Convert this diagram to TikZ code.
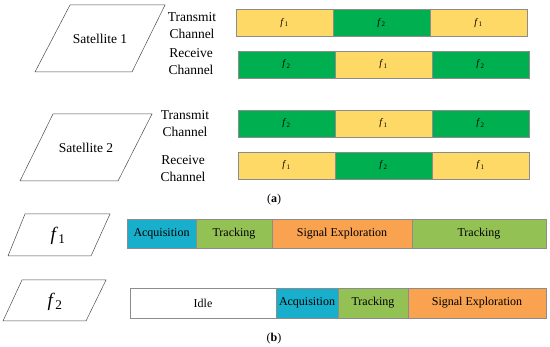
\documentclass[tikz,border=0pt]{standalone}
\usepackage{fontspec}
\setmainfont{LiberationSerif}[Extension=.ttf, UprightFont=*-Regular,
  BoldFont=*-Bold, ItalicFont=*-Italic, BoldItalicFont=*-BoldItalic]
\usepackage{xcolor}
\usetikzlibrary{positioning}

\definecolor{chyel}{HTML}{FFD966}
\definecolor{chgrn}{HTML}{00B050}
\definecolor{acqc}{HTML}{17AFCB}
\definecolor{trkc}{HTML}{93C153}
\definecolor{sigc}{HTML}{F9A24F}

\newcommand{\fch}[1]{\textit{f}\kern0.3pt\textsubscript{#1}}

\begin{document}
\begin{tikzpicture}[
  x=1pt, y=-1pt,
  font=\fontsize{12}{14}\selectfont,
  para/.style={draw=black!70, line width=0.5pt},
  side/.style={align=center, font=\fontsize{13.5}{17}\selectfont},
  seg/.style={draw=black!45, line width=0.4pt, anchor=west, inner sep=0pt,
              outer sep=0pt, minimum height=#1},
  seg/.default=27,
  yel/.style={seg, fill=chyel, minimum width=97, font=\fontsize{10}{12}\selectfont},
  grn/.style={seg, fill=chgrn, minimum width=97, font=\fontsize{10}{12}\selectfont},
  sublabel/.style={font=\fontsize{12}{14}\selectfont},
  flabel/.style={font=\fontsize{19}{21}\selectfont},
]
\useasboundingbox (0,0) rectangle (550,347);

% ---------------- (a): satellite channels ----------------
\draw[para] (70,5) -- (165,5) -- (132,72) -- (35,72) -- cycle;
\node[font=\fontsize{13.5}{16}\selectfont] (sat1) at (100,39) {Satellite 1};
\draw[para] (53,114) -- (152,114) -- (118,181) -- (20,181) -- cycle;
\node[font=\fontsize{13.5}{16}\selectfont] (sat2) at (86,148) {Satellite 2};

\node[side] (tx1) at (192,25.5) {Transmit\\Channel};
\node[side] (rx1) at (191,62) {Receive\\Channel};
\node[side] (tx2) at (185,123.5) {Transmit\\Channel};
\node[side] (rx2) at (183,168.5) {Receive\\Channel};

% slot rows
\node[yel] (a1) at (236,23) {\fch{1}};
\node[grn, right=0pt of a1] (a2) {\fch{2}};
\node[yel, right=0pt of a2] (a3) {\fch{1}};

\node[grn] (b1) at (238,64.5) {\fch{2}};
\node[yel, right=0pt of b1] (b2) {\fch{1}};
\node[grn, right=0pt of b2] (b3) {\fch{2}};

\node[grn] (c1) at (238,123.5) {\fch{2}};
\node[yel, right=0pt of c1] (c2) {\fch{1}};
\node[grn, right=0pt of c2] (c3) {\fch{2}};

\node[yel] (d1) at (238,165.5) {\fch{1}};
\node[grn, right=0pt of d1] (d2) {\fch{2}};
\node[yel, right=0pt of d2] (d3) {\fch{1}};

\node[sublabel] (capa) at (274,200) {(\textbf{a})};

% ---------------- (b): per-frequency states ----------------
\draw[para] (25,214) -- (110,214) -- (91,256) -- (8,256) -- cycle;
\node[flabel] (fa) at (58,236) {\fch{1}};
\draw[para] (22,280) -- (106,280) -- (86,321) -- (3,321) -- cycle;
\node[flabel] (fb) at (55,302) {\fch{2}};

\node[seg=29, fill=acqc, minimum width=69] (p1) at (127,233.5) {Acquisition};
\node[seg=29, fill=trkc, minimum width=76, right=0pt of p1] (p2) {Tracking};
\node[seg=29, fill=sigc, minimum width=140, right=0pt of p2] (p3) {Signal Exploration};
\node[seg=29, fill=trkc, minimum width=134, right=0pt of p3] (p4) {Tracking};

\node[seg=30, fill=white, minimum width=146] (q1) at (130,303) {Idle};
\node[seg=30, fill=acqc, minimum width=62, right=0pt of q1] (q2) {Acquisition};
\node[seg=30, fill=trkc, minimum width=70, right=0pt of q2] (q3) {Tracking};
\node[seg=30, fill=sigc, minimum width=138, right=0pt of q3] (q4) {Signal Exploration};

\node[sublabel] (capb) at (274,339) {(\textbf{b})};
\end{tikzpicture}
\end{document}
